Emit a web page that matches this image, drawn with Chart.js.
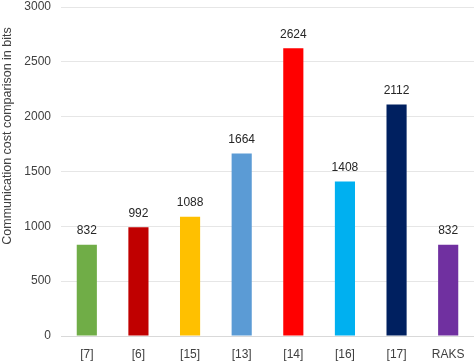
<!DOCTYPE html>
<html>
<head>
<meta charset="utf-8">
<script src="https://cdn.jsdelivr.net/npm/chart.js@4"></script>
<style>
  html, body { margin: 0; padding: 0; background: #fff; }
  #wrap { width: 474px; height: 362px; }
</style>
</head>
<body>
<div id="wrap"><canvas id="barChart"></canvas></div>
<script>
const labels = ['[7]', '[6]', '[15]', '[13]', '[14]', '[16]', '[17]', 'RAKS'];
const costs = [832, 992, 1088, 1664, 2624, 1408, 2112, 832];
const colors = ['#70ad47', '#c00000', '#ffc000', '#5b9bd5', '#ff0000', '#00b0f0', '#002060', '#7030a0'];
const yTicks = [0, 500, 1000, 1500, 2000, 2500, 3000];
const yTitle = 'Communication cost comparison in bits';

const FONT = "'Liberation Sans', 'DejaVu Sans', sans-serif";

// values over the bars
const barValues = {
  id: 'barValues',
  afterDatasetsDraw(chart) {
    const ctx = chart.ctx;
    const meta = chart.getDatasetMeta(0);
    ctx.save();
    ctx.font = '12px ' + FONT;
    ctx.fillStyle = '#262626';
    ctx.textAlign = 'center';
    ctx.textBaseline = 'bottom';
    meta.data.forEach((bar, i) => {
      ctx.fillText(costs[i], bar.x, bar.y - 8);
    });
    ctx.restore();
  }
};

// y title sits above the middle of the axis in the original, ~246px long
const sideTitle = {
  id: 'sideTitle',
  afterDraw(chart) {
    const ctx = chart.ctx;
    ctx.save();
    ctx.font = '12px ' + FONT;
    const w = ctx.measureText(yTitle).width;
    const size = Math.min(12.5, 12 * 246 / w);
    ctx.font = size + 'px ' + FONT;
    ctx.translate(8, 136);
    ctx.rotate(-Math.PI / 2);
    ctx.fillStyle = '#404040';
    ctx.textAlign = 'center';
    ctx.textBaseline = 'middle';
    ctx.fillText(yTitle, 0, 0);
    ctx.restore();
  }
};

new Chart(document.getElementById('barChart'), {
  type: 'bar',
  data: {
    labels: labels,
    datasets: [{
      label: 'Communication cost',
      data: costs,
      backgroundColor: colors,
      barPercentage: 0.39,
      categoryPercentage: 1
    }]
  },
  options: {
    responsive: true,
    maintainAspectRatio: false,
    animation: false,
    layout: { padding: { top: 7, right: 0, bottom: 0, left: 0 } },
    plugins: {
      legend: { display: false },
      tooltip: { enabled: false }
    },
    scales: {
      x: {
        grid: { display: false },
        border: { color: '#d9d9d9' },
        ticks: { color: '#404040', font: { family: FONT, size: 12 }, padding: 3 },
        afterFit(scale) { scale.height = 26; }
      },
      y: {
        min: 0,
        max: 3000,
        afterBuildTicks(scale) { scale.ticks = yTicks.map(v => ({ value: v })); },
        grid: { color: '#e6e6e6', drawTicks: false },
        border: { display: false },
        ticks: {
          color: '#404040',
          font: { family: FONT, size: 12 },
          padding: 10,
          callback: v => String(v)
        },
        afterFit(scale) {
          scale.width = 61;
          scale.paddingTop = 0;
          scale.paddingBottom = 0;
        }
      }
    }
  },
  plugins: [barValues, sideTitle]
});
</script>
</body>
</html>
